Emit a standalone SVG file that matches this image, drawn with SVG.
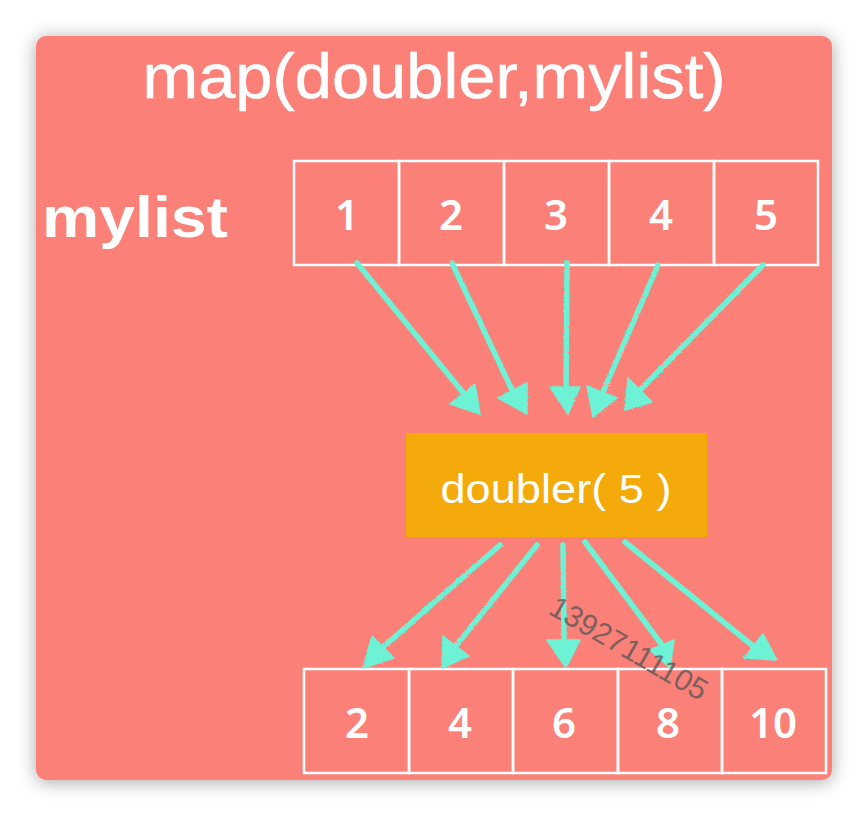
<svg xmlns="http://www.w3.org/2000/svg" width="868" height="818" viewBox="0 0 868 818">
<defs>
<filter id="sh" x="-10%" y="-10%" width="120%" height="120%">
<feDropShadow dx="0" dy="2" stdDeviation="9" flood-color="#000" flood-opacity="0.35"/>
</filter>
<filter id="chalk" x="-5%" y="-5%" width="110%" height="110%">
<feTurbulence type="fractalNoise" baseFrequency="0.9" numOctaves="2" seed="3" result="n"/>
<feDisplacementMap in="SourceGraphic" in2="n" scale="2.5"/>
</filter>
</defs>
<style>
.cell{fill:none;stroke:#ffffff;stroke-width:2.5}
.num{font-family:"Noto Sans","Liberation Sans",sans-serif;font-weight:600;font-size:42px;fill:#ffffff;text-anchor:middle}
.shaft{stroke:#6ef2d6;stroke-width:5.5;stroke-linecap:round;fill:none}
.head{fill:#6ef2d6;stroke:#6ef2d6;stroke-width:1.5;stroke-linejoin:round}
</style>
<rect x="0" y="0" width="868" height="818" fill="#ffffff"/>
<rect id="panel" x="36" y="36" width="796" height="744" rx="10" fill="#fa8078" filter="url(#sh)"/>
<g id="title"><text x="434" y="98" font-family="'Liberation Sans',Arial,sans-serif" font-size="63" fill="#ffffff" stroke="#ffffff" stroke-width="0.6" text-anchor="middle" textLength="583" lengthAdjust="spacingAndGlyphs">map(doubler,mylist)</text></g>
<g id="label-mylist"><text x="42" y="237" font-family="'Liberation Sans',Arial,sans-serif" font-weight="bold" font-size="58" fill="#ffffff" textLength="186" lengthAdjust="spacingAndGlyphs">mylist</text></g>
<g id="input-list">
<rect class="cell" x="294" y="161" width="105" height="104"/>
<rect class="cell" x="399" y="161" width="105" height="104"/>
<rect class="cell" x="504" y="161" width="105" height="104"/>
<rect class="cell" x="609" y="161" width="105" height="104"/>
<rect class="cell" x="714" y="161" width="104" height="104"/>
<text class="num" x="347" y="230">1</text>
<text class="num" x="451" y="230">2</text>
<text class="num" x="556" y="230">3</text>
<text class="num" x="661" y="230">4</text>
<text class="num" x="766" y="230">5</text>
</g>
<g id="doubler">
<rect x="406" y="433" width="301" height="104" fill="#f4aa0b"/>
<text x="556" y="503" font-family="'Liberation Sans',Arial,sans-serif" font-size="40" fill="#ffffff" text-anchor="middle" textLength="231" lengthAdjust="spacingAndGlyphs">doubler( 5 )</text>
</g>
<g id="output-list">
<rect class="cell" x="304" y="669" width="105" height="104"/>
<rect class="cell" x="409" y="669" width="104" height="104"/>
<rect class="cell" x="513" y="669" width="105" height="104"/>
<rect class="cell" x="618" y="669" width="104" height="104"/>
<rect class="cell" x="722" y="669" width="104" height="104"/>
<text class="num" x="357" y="738">2</text>
<text class="num" x="460" y="738">4</text>
<text class="num" x="564" y="738">6</text>
<text class="num" x="668" y="738">8</text>
<text class="num" x="773" y="738">10</text>
</g>
<g id="connectors" filter="url(#chalk)">
<line class="shaft" x1="357" y1="263" x2="465" y2="395"/><polygon class="head" points="480,414 450,404 475,384"/>
<line class="shaft" x1="452" y1="263" x2="513" y2="392"/><polygon class="head" points="527,414 498,398 527,383"/>
<line class="shaft" x1="567" y1="263" x2="566" y2="388"/><polygon class="head" points="568,414 550,387 580,387"/>
<line class="shaft" x1="658" y1="265" x2="603" y2="392"/><polygon class="head" points="593,417 587,386 617,398"/>
<line class="shaft" x1="763" y1="265" x2="640" y2="390"/><polygon class="head" points="625,410 628,378 652,402"/>
<line class="shaft" x1="500" y1="545" x2="382" y2="648"/><polygon class="head" points="363,668 372,636 394,658"/>
<line class="shaft" x1="537" y1="545" x2="455" y2="647"/><polygon class="head" points="442,668 443,636 469,656"/>
<line class="shaft" x1="563" y1="545" x2="564" y2="641"/><polygon class="head" points="566,668 547,640 580,640"/>
<line class="shaft" x1="585" y1="542" x2="662" y2="645"/><polygon class="head" points="670,668 650,650 674,640"/>
<line class="shaft" x1="625" y1="542" x2="753" y2="646"/><polygon class="head" points="777,660 744,658 763,634"/>
</g>
<g id="watermark"><text x="547" y="613" transform="rotate(30 547 613)" font-family="'Liberation Sans',Arial,sans-serif" font-size="30" fill="#555555" fill-opacity="0.75">13927111105</text></g>
</svg>
